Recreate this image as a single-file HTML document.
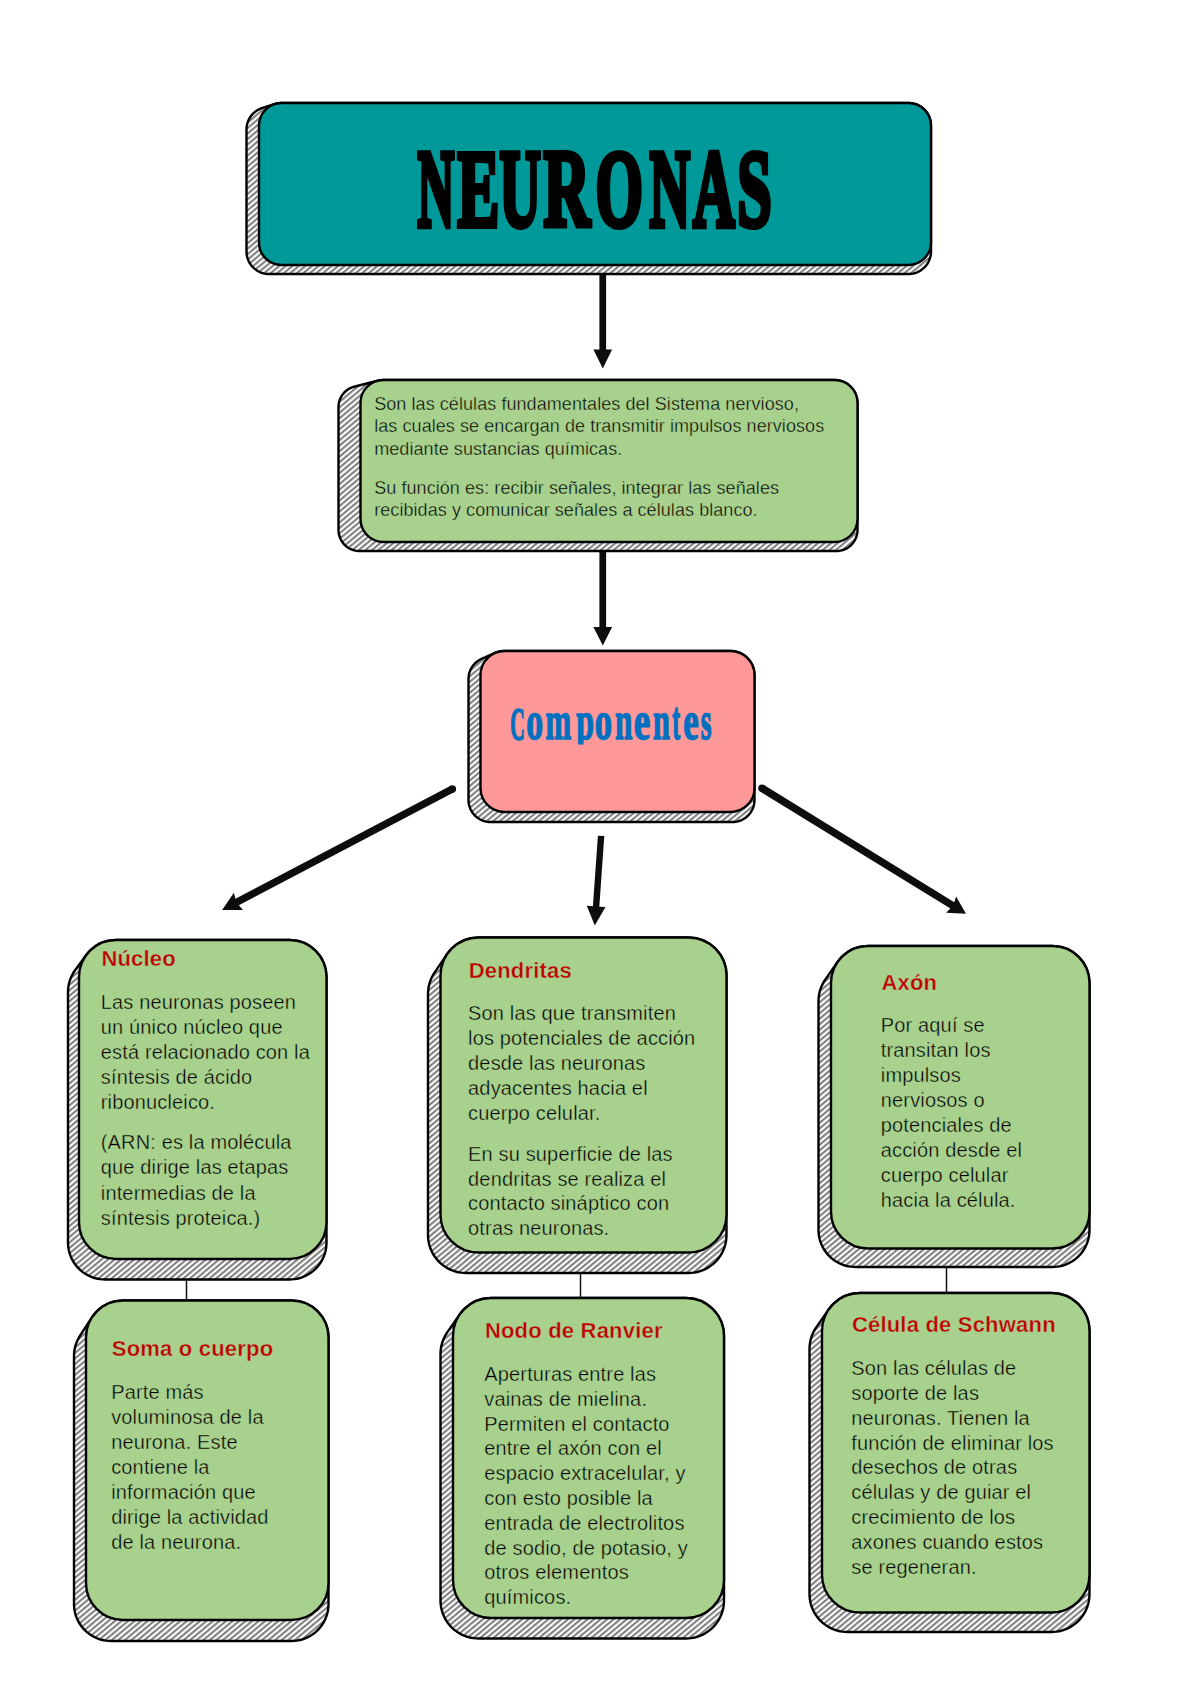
<!DOCTYPE html><html><head><meta charset="utf-8"><style>
html,body{margin:0;padding:0;background:#fff;width:1200px;height:1696px;overflow:hidden;position:relative}
.t{position:absolute;white-space:nowrap;font-family:"Liberation Sans",sans-serif;line-height:1;margin:0}
.big{position:absolute;white-space:nowrap;font-family:"Liberation Serif",serif;font-weight:bold;line-height:1;transform-origin:0 0}
</style></head><body>
<svg width="1200" height="1696" viewBox="0 0 1200 1696" style="position:absolute;left:0;top:0">
<defs><pattern id="h" patternUnits="userSpaceOnUse" width="4.2" height="4" patternTransform="rotate(50)"><rect width="4.2" height="4" fill="#fff"/><rect x="0" y="0" width="2.1" height="4" fill="#808080"/></pattern></defs>
<path d="M246.50,129.50 L246.55,128.03 L246.69,126.56 L246.93,125.11 L247.27,123.68 L247.69,122.27 L248.21,120.89 L248.82,119.55 L249.51,118.25 L250.29,117.00 L251.15,115.80 L252.08,114.66 L253.09,113.59 L254.16,112.58 L255.30,111.65 L256.50,110.79 L257.75,110.01 L259.05,109.32 L260.39,108.71 L261.77,108.19 L274.27,104.19 L275.68,103.77 L277.11,103.43 L278.56,103.19 L280.03,103.05 L281.50,103.00 L908.50,103.00 L909.97,103.05 L911.44,103.19 L912.89,103.43 L914.32,103.77 L915.73,104.19 L917.11,104.71 L918.45,105.32 L919.75,106.01 L921.00,106.79 L922.20,107.65 L923.34,108.58 L924.41,109.59 L925.42,110.66 L926.35,111.80 L927.21,113.00 L927.99,114.25 L928.68,115.55 L929.29,116.89 L929.81,118.27 L930.23,119.68 L930.57,121.11 L930.81,122.56 L930.95,124.03 L931.00,125.50 L931.00,251.50 L930.95,252.97 L930.81,254.44 L930.57,255.89 L930.23,257.32 L929.81,258.73 L929.29,260.11 L928.68,261.45 L927.99,262.75 L927.21,264.00 L926.35,265.20 L925.42,266.34 L924.41,267.41 L923.34,268.42 L922.20,269.35 L921.00,270.21 L919.75,270.99 L918.45,271.68 L917.11,272.29 L915.73,272.81 L914.32,273.23 L912.89,273.57 L911.44,273.81 L909.97,273.95 L908.50,274.00 L269.00,274.00 L267.53,273.95 L266.06,273.81 L264.61,273.57 L263.18,273.23 L261.77,272.81 L260.39,272.29 L259.05,271.68 L257.75,270.99 L256.50,270.21 L255.30,269.35 L254.16,268.42 L253.09,267.41 L252.08,266.34 L251.15,265.20 L250.29,264.00 L249.51,262.75 L248.82,261.45 L248.21,260.11 L247.69,258.73 L247.27,257.32 L246.93,255.89 L246.69,254.44 L246.55,252.97 L246.50,251.50 Z" fill="url(#h)" stroke="#000" stroke-width="2.4" stroke-linejoin="round"/>
<path d="M281.5,103 H908.5 A22.5,22.5 0 0 1 931,125.5 V242.5 A22.5,22.5 0 0 1 908.5,265 H281.5 A22.5,22.5 0 0 1 259,242.5 V125.5 A22.5,22.5 0 0 1 281.5,103 Z" fill="#009999" stroke="#000" stroke-width="2.4"/>
<path d="M338.50,407.00 L338.54,405.63 L338.68,404.26 L338.90,402.90 L339.22,401.56 L339.61,400.25 L340.10,398.96 L340.67,397.71 L341.31,396.50 L342.04,395.33 L342.84,394.22 L343.71,393.15 L344.65,392.15 L345.65,391.21 L346.72,390.34 L347.83,389.54 L349.00,388.81 L350.21,388.17 L351.46,387.60 L352.75,387.11 L354.06,386.72 L377.55,380.78 L379.01,380.44 L380.50,380.20 L382.00,380.05 L383.50,380.00 L834.50,380.00 L836.00,380.05 L837.50,380.20 L838.99,380.44 L840.45,380.78 L841.89,381.22 L843.30,381.75 L844.67,382.37 L846.00,383.08 L847.28,383.88 L848.50,384.75 L849.66,385.71 L850.76,386.74 L851.79,387.84 L852.75,389.00 L853.62,390.22 L854.42,391.50 L855.13,392.83 L855.75,394.20 L856.28,395.61 L856.72,397.05 L857.06,398.51 L857.30,400.00 L857.45,401.50 L857.50,403.00 L857.50,530.00 L857.46,531.37 L857.32,532.74 L857.10,534.10 L856.78,535.44 L856.39,536.75 L855.90,538.04 L855.33,539.29 L854.69,540.50 L853.96,541.67 L853.16,542.78 L852.29,543.85 L851.35,544.85 L850.35,545.79 L849.28,546.66 L848.17,547.46 L847.00,548.19 L845.79,548.83 L844.54,549.40 L843.25,549.89 L841.94,550.28 L840.60,550.60 L839.24,550.82 L837.87,550.96 L836.50,551.00 L359.50,551.00 L358.13,550.96 L356.76,550.82 L355.40,550.60 L354.06,550.28 L352.75,549.89 L351.46,549.40 L350.21,548.83 L349.00,548.19 L347.83,547.46 L346.72,546.66 L345.65,545.79 L344.65,544.85 L343.71,543.85 L342.84,542.78 L342.04,541.67 L341.31,540.50 L340.67,539.29 L340.10,538.04 L339.61,536.75 L339.22,535.44 L338.90,534.10 L338.68,532.74 L338.54,531.37 L338.50,530.00 Z" fill="url(#h)" stroke="#000" stroke-width="2.4" stroke-linejoin="round"/>
<path d="M383.5,380 H834.5 A23,23 0 0 1 857.5,403 V519 A23,23 0 0 1 834.5,542 H383.5 A23,23 0 0 1 360.5,519 V403 A23,23 0 0 1 383.5,380 Z" fill="#A9D18E" stroke="#000" stroke-width="2.4"/>
<path d="M468.50,679.00 L468.55,677.56 L468.69,676.13 L468.92,674.71 L469.25,673.31 L469.67,671.93 L470.17,670.58 L470.77,669.27 L471.45,668.00 L472.21,666.78 L473.05,665.61 L473.96,664.49 L474.94,663.44 L475.99,662.46 L477.11,661.55 L478.28,660.71 L479.50,659.95 L480.77,659.27 L482.08,658.67 L495.32,652.83 L496.79,652.27 L498.29,651.82 L499.82,651.46 L501.37,651.21 L502.93,651.05 L504.50,651.00 L730.50,651.00 L732.07,651.05 L733.63,651.21 L735.18,651.46 L736.71,651.82 L738.21,652.27 L739.68,652.83 L741.11,653.48 L742.50,654.22 L743.83,655.04 L745.11,655.96 L746.32,656.96 L747.47,658.03 L748.54,659.18 L749.54,660.39 L750.46,661.67 L751.28,663.00 L752.02,664.39 L752.67,665.82 L753.23,667.29 L753.68,668.79 L754.04,670.32 L754.29,671.87 L754.45,673.43 L754.50,675.00 L754.50,800.00 L754.45,801.44 L754.31,802.87 L754.08,804.29 L753.75,805.69 L753.33,807.07 L752.83,808.42 L752.23,809.73 L751.55,811.00 L750.79,812.22 L749.95,813.39 L749.04,814.51 L748.06,815.56 L747.01,816.54 L745.89,817.45 L744.72,818.29 L743.50,819.05 L742.23,819.73 L740.92,820.33 L739.57,820.83 L738.19,821.25 L736.79,821.58 L735.37,821.81 L733.94,821.95 L732.50,822.00 L490.50,822.00 L489.06,821.95 L487.63,821.81 L486.21,821.58 L484.81,821.25 L483.43,820.83 L482.08,820.33 L480.77,819.73 L479.50,819.05 L478.28,818.29 L477.11,817.45 L475.99,816.54 L474.94,815.56 L473.96,814.51 L473.05,813.39 L472.21,812.22 L471.45,811.00 L470.77,809.73 L470.17,808.42 L469.67,807.07 L469.25,805.69 L468.92,804.29 L468.69,802.87 L468.55,801.44 L468.50,800.00 Z" fill="url(#h)" stroke="#000" stroke-width="2.4" stroke-linejoin="round"/>
<path d="M504.5,651 H730.5 A24,24 0 0 1 754.5,675 V788 A24,24 0 0 1 730.5,812 H504.5 A24,24 0 0 1 480.5,788 V675 A24,24 0 0 1 504.5,651 Z" fill="#FF9999" stroke="#000" stroke-width="2.4"/>
<path d="M68.00,992.00 L68.08,989.58 L68.32,987.17 L68.71,984.78 L69.26,982.42 L69.96,980.11 L70.82,977.84 L71.82,975.64 L72.96,973.50 L74.24,971.44 L75.65,969.48 L86.65,954.48 L88.18,952.60 L89.84,950.84 L91.60,949.18 L93.48,947.65 L95.44,946.24 L97.50,944.96 L99.64,943.82 L101.84,942.82 L104.11,941.96 L106.42,941.26 L108.78,940.71 L111.17,940.32 L113.58,940.08 L116.00,940.00 L289.50,940.00 L291.92,940.08 L294.33,940.32 L296.72,940.71 L299.08,941.26 L301.39,941.96 L303.66,942.82 L305.86,943.82 L308.00,944.96 L310.06,946.24 L312.02,947.65 L313.90,949.18 L315.66,950.84 L317.32,952.60 L318.85,954.48 L320.26,956.44 L321.54,958.50 L322.68,960.64 L323.68,962.84 L324.54,965.11 L325.24,967.42 L325.79,969.78 L326.18,972.17 L326.42,974.58 L326.50,977.00 L326.50,1242.50 L326.42,1244.92 L326.18,1247.33 L325.79,1249.72 L325.24,1252.08 L324.54,1254.39 L323.68,1256.66 L322.68,1258.86 L321.54,1261.00 L320.26,1263.06 L318.85,1265.02 L317.32,1266.90 L315.66,1268.66 L313.90,1270.32 L312.02,1271.85 L310.06,1273.26 L308.00,1274.54 L305.86,1275.68 L303.66,1276.68 L301.39,1277.54 L299.08,1278.24 L296.72,1278.79 L294.33,1279.18 L291.92,1279.42 L289.50,1279.50 L105.00,1279.50 L102.58,1279.42 L100.17,1279.18 L97.78,1278.79 L95.42,1278.24 L93.11,1277.54 L90.84,1276.68 L88.64,1275.68 L86.50,1274.54 L84.44,1273.26 L82.48,1271.85 L80.60,1270.32 L78.84,1268.66 L77.18,1266.90 L75.65,1265.02 L74.24,1263.06 L72.96,1261.00 L71.82,1258.86 L70.82,1256.66 L69.96,1254.39 L69.26,1252.08 L68.71,1249.72 L68.32,1247.33 L68.08,1244.92 L68.00,1242.50 Z" fill="url(#h)" stroke="#000" stroke-width="2.4" stroke-linejoin="round"/>
<path d="M116,940 H289.5 A37,37 0 0 1 326.5,977 V1222 A37,37 0 0 1 289.5,1259 H116 A37,37 0 0 1 79,1222 V977 A37,37 0 0 1 116,940 Z" fill="#A9D18E" stroke="#000" stroke-width="2.4"/>
<path d="M428.00,994.00 L428.08,991.51 L428.33,989.04 L428.73,986.59 L429.29,984.16 L430.02,981.79 L430.89,979.46 L431.92,977.19 L433.09,975.00 L434.40,972.89 L446.90,954.39 L448.35,952.37 L449.93,950.44 L451.63,948.63 L453.44,946.93 L455.37,945.35 L457.39,943.90 L459.50,942.59 L461.69,941.42 L463.96,940.39 L466.29,939.52 L468.66,938.79 L471.09,938.23 L473.54,937.83 L476.01,937.58 L478.50,937.50 L688.50,937.50 L690.99,937.58 L693.46,937.83 L695.91,938.23 L698.34,938.79 L700.71,939.52 L703.04,940.39 L705.31,941.42 L707.50,942.59 L709.61,943.90 L711.63,945.35 L713.56,946.93 L715.37,948.63 L717.07,950.44 L718.65,952.37 L720.10,954.39 L721.41,956.50 L722.58,958.69 L723.61,960.96 L724.48,963.29 L725.21,965.66 L725.77,968.09 L726.17,970.54 L726.42,973.01 L726.50,975.50 L726.50,1235.00 L726.42,1237.49 L726.17,1239.96 L725.77,1242.41 L725.21,1244.84 L724.48,1247.21 L723.61,1249.54 L722.58,1251.81 L721.41,1254.00 L720.10,1256.11 L718.65,1258.13 L717.07,1260.06 L715.37,1261.87 L713.56,1263.57 L711.63,1265.15 L709.61,1266.60 L707.50,1267.91 L705.31,1269.08 L703.04,1270.11 L700.71,1270.98 L698.34,1271.71 L695.91,1272.27 L693.46,1272.67 L690.99,1272.92 L688.50,1273.00 L466.00,1273.00 L463.51,1272.92 L461.04,1272.67 L458.59,1272.27 L456.16,1271.71 L453.79,1270.98 L451.46,1270.11 L449.19,1269.08 L447.00,1267.91 L444.89,1266.60 L442.87,1265.15 L440.94,1263.57 L439.13,1261.87 L437.43,1260.06 L435.85,1258.13 L434.40,1256.11 L433.09,1254.00 L431.92,1251.81 L430.89,1249.54 L430.02,1247.21 L429.29,1244.84 L428.73,1242.41 L428.33,1239.96 L428.08,1237.49 L428.00,1235.00 Z" fill="url(#h)" stroke="#000" stroke-width="2.4" stroke-linejoin="round"/>
<path d="M478.5,937.5 H688.5 A38,38 0 0 1 726.5,975.5 V1214.5 A38,38 0 0 1 688.5,1252.5 H478.5 A38,38 0 0 1 440.5,1214.5 V975.5 A38,38 0 0 1 478.5,937.5 Z" fill="#A9D18E" stroke="#000" stroke-width="2.4"/>
<path d="M818.50,1001.00 L818.58,998.58 L818.82,996.17 L819.21,993.78 L819.76,991.42 L820.46,989.11 L821.32,986.84 L822.32,984.64 L823.46,982.50 L824.74,980.44 L837.24,962.44 L838.65,960.48 L840.18,958.60 L841.84,956.84 L843.60,955.18 L845.48,953.65 L847.44,952.24 L849.50,950.96 L851.64,949.82 L853.84,948.82 L856.11,947.96 L858.42,947.26 L860.78,946.71 L863.17,946.32 L865.58,946.08 L868.00,946.00 L1052.50,946.00 L1054.92,946.08 L1057.33,946.32 L1059.72,946.71 L1062.08,947.26 L1064.39,947.96 L1066.66,948.82 L1068.86,949.82 L1071.00,950.96 L1073.06,952.24 L1075.02,953.65 L1076.90,955.18 L1078.66,956.84 L1080.32,958.60 L1081.85,960.48 L1083.26,962.44 L1084.54,964.50 L1085.68,966.64 L1086.68,968.84 L1087.54,971.11 L1088.24,973.42 L1088.79,975.78 L1089.18,978.17 L1089.42,980.58 L1089.50,983.00 L1089.50,1230.00 L1089.42,1232.42 L1089.18,1234.83 L1088.79,1237.22 L1088.24,1239.58 L1087.54,1241.89 L1086.68,1244.16 L1085.68,1246.36 L1084.54,1248.50 L1083.26,1250.56 L1081.85,1252.52 L1080.32,1254.40 L1078.66,1256.16 L1076.90,1257.82 L1075.02,1259.35 L1073.06,1260.76 L1071.00,1262.04 L1068.86,1263.18 L1066.66,1264.18 L1064.39,1265.04 L1062.08,1265.74 L1059.72,1266.29 L1057.33,1266.68 L1054.92,1266.92 L1052.50,1267.00 L855.50,1267.00 L853.08,1266.92 L850.67,1266.68 L848.28,1266.29 L845.92,1265.74 L843.61,1265.04 L841.34,1264.18 L839.14,1263.18 L837.00,1262.04 L834.94,1260.76 L832.98,1259.35 L831.10,1257.82 L829.34,1256.16 L827.68,1254.40 L826.15,1252.52 L824.74,1250.56 L823.46,1248.50 L822.32,1246.36 L821.32,1244.16 L820.46,1241.89 L819.76,1239.58 L819.21,1237.22 L818.82,1234.83 L818.58,1232.42 L818.50,1230.00 Z" fill="url(#h)" stroke="#000" stroke-width="2.4" stroke-linejoin="round"/>
<path d="M868,946 H1052.5 A37,37 0 0 1 1089.5,983 V1211.5 A37,37 0 0 1 1052.5,1248.5 H868 A37,37 0 0 1 831,1211.5 V983 A37,37 0 0 1 868,946 Z" fill="#A9D18E" stroke="#000" stroke-width="2.4"/>
<path d="M74.00,1356.00 L74.08,1353.58 L74.32,1351.17 L74.71,1348.78 L75.26,1346.42 L75.96,1344.11 L76.82,1341.84 L77.82,1339.64 L78.96,1337.50 L80.24,1335.44 L92.24,1316.94 L93.65,1314.98 L95.18,1313.10 L96.84,1311.34 L98.60,1309.68 L100.48,1308.15 L102.44,1306.74 L104.50,1305.46 L106.64,1304.32 L108.84,1303.32 L111.11,1302.46 L113.42,1301.76 L115.78,1301.21 L118.17,1300.82 L120.58,1300.58 L123.00,1300.50 L291.50,1300.50 L293.92,1300.58 L296.33,1300.82 L298.72,1301.21 L301.08,1301.76 L303.39,1302.46 L305.66,1303.32 L307.86,1304.32 L310.00,1305.46 L312.06,1306.74 L314.02,1308.15 L315.90,1309.68 L317.66,1311.34 L319.32,1313.10 L320.85,1314.98 L322.26,1316.94 L323.54,1319.00 L324.68,1321.14 L325.68,1323.34 L326.54,1325.61 L327.24,1327.92 L327.79,1330.28 L328.18,1332.67 L328.42,1335.08 L328.50,1337.50 L328.50,1604.00 L328.42,1606.42 L328.18,1608.83 L327.79,1611.22 L327.24,1613.58 L326.54,1615.89 L325.68,1618.16 L324.68,1620.36 L323.54,1622.50 L322.26,1624.56 L320.85,1626.52 L319.32,1628.40 L317.66,1630.16 L315.90,1631.82 L314.02,1633.35 L312.06,1634.76 L310.00,1636.04 L307.86,1637.18 L305.66,1638.18 L303.39,1639.04 L301.08,1639.74 L298.72,1640.29 L296.33,1640.68 L293.92,1640.92 L291.50,1641.00 L111.00,1641.00 L108.58,1640.92 L106.17,1640.68 L103.78,1640.29 L101.42,1639.74 L99.11,1639.04 L96.84,1638.18 L94.64,1637.18 L92.50,1636.04 L90.44,1634.76 L88.48,1633.35 L86.60,1631.82 L84.84,1630.16 L83.18,1628.40 L81.65,1626.52 L80.24,1624.56 L78.96,1622.50 L77.82,1620.36 L76.82,1618.16 L75.96,1615.89 L75.26,1613.58 L74.71,1611.22 L74.32,1608.83 L74.08,1606.42 L74.00,1604.00 Z" fill="url(#h)" stroke="#000" stroke-width="2.4" stroke-linejoin="round"/>
<path d="M123,1300.5 H291.5 A37,37 0 0 1 328.5,1337.5 V1583 A37,37 0 0 1 291.5,1620 H123 A37,37 0 0 1 86,1583 V1337.5 A37,37 0 0 1 123,1300.5 Z" fill="#A9D18E" stroke="#000" stroke-width="2.4"/>
<path d="M440.50,1354.00 L440.58,1351.51 L440.83,1349.04 L441.23,1346.59 L441.79,1344.16 L442.52,1341.79 L443.39,1339.46 L444.42,1337.19 L445.59,1335.00 L446.90,1332.89 L459.40,1314.89 L460.85,1312.87 L462.43,1310.94 L464.13,1309.13 L465.94,1307.43 L467.87,1305.85 L469.89,1304.40 L472.00,1303.09 L474.19,1301.92 L476.46,1300.89 L478.79,1300.02 L481.16,1299.29 L483.59,1298.73 L486.04,1298.33 L488.51,1298.08 L491.00,1298.00 L686.00,1298.00 L688.49,1298.08 L690.96,1298.33 L693.41,1298.73 L695.84,1299.29 L698.21,1300.02 L700.54,1300.89 L702.81,1301.92 L705.00,1303.09 L707.11,1304.40 L709.13,1305.85 L711.06,1307.43 L712.87,1309.13 L714.57,1310.94 L716.15,1312.87 L717.60,1314.89 L718.91,1317.00 L720.08,1319.19 L721.11,1321.46 L721.98,1323.79 L722.71,1326.16 L723.27,1328.59 L723.67,1331.04 L723.92,1333.51 L724.00,1336.00 L724.00,1600.50 L723.92,1602.99 L723.67,1605.46 L723.27,1607.91 L722.71,1610.34 L721.98,1612.71 L721.11,1615.04 L720.08,1617.31 L718.91,1619.50 L717.60,1621.61 L716.15,1623.63 L714.57,1625.56 L712.87,1627.37 L711.06,1629.07 L709.13,1630.65 L707.11,1632.10 L705.00,1633.41 L702.81,1634.58 L700.54,1635.61 L698.21,1636.48 L695.84,1637.21 L693.41,1637.77 L690.96,1638.17 L688.49,1638.42 L686.00,1638.50 L478.50,1638.50 L476.01,1638.42 L473.54,1638.17 L471.09,1637.77 L468.66,1637.21 L466.29,1636.48 L463.96,1635.61 L461.69,1634.58 L459.50,1633.41 L457.39,1632.10 L455.37,1630.65 L453.44,1629.07 L451.63,1627.37 L449.93,1625.56 L448.35,1623.63 L446.90,1621.61 L445.59,1619.50 L444.42,1617.31 L443.39,1615.04 L442.52,1612.71 L441.79,1610.34 L441.23,1607.91 L440.83,1605.46 L440.58,1602.99 L440.50,1600.50 Z" fill="url(#h)" stroke="#000" stroke-width="2.4" stroke-linejoin="round"/>
<path d="M491,1298 H686 A38,38 0 0 1 724,1336 V1580 A38,38 0 0 1 686,1618 H491 A38,38 0 0 1 453,1580 V1336 A38,38 0 0 1 491,1298 Z" fill="#A9D18E" stroke="#000" stroke-width="2.4"/>
<path d="M809.50,1349.00 L809.58,1346.51 L809.83,1344.04 L810.23,1341.59 L810.79,1339.16 L811.52,1336.79 L812.39,1334.46 L813.42,1332.19 L814.59,1330.00 L815.90,1327.89 L828.40,1309.89 L829.85,1307.87 L831.43,1305.94 L833.13,1304.13 L834.94,1302.43 L836.87,1300.85 L838.89,1299.40 L841.00,1298.09 L843.19,1296.92 L845.46,1295.89 L847.79,1295.02 L850.16,1294.29 L852.59,1293.73 L855.04,1293.33 L857.51,1293.08 L860.00,1293.00 L1051.50,1293.00 L1053.99,1293.08 L1056.46,1293.33 L1058.91,1293.73 L1061.34,1294.29 L1063.71,1295.02 L1066.04,1295.89 L1068.31,1296.92 L1070.50,1298.09 L1072.61,1299.40 L1074.63,1300.85 L1076.56,1302.43 L1078.37,1304.13 L1080.07,1305.94 L1081.65,1307.87 L1083.10,1309.89 L1084.41,1312.00 L1085.58,1314.19 L1086.61,1316.46 L1087.48,1318.79 L1088.21,1321.16 L1088.77,1323.59 L1089.17,1326.04 L1089.42,1328.51 L1089.50,1331.00 L1089.50,1594.00 L1089.42,1596.49 L1089.17,1598.96 L1088.77,1601.41 L1088.21,1603.84 L1087.48,1606.21 L1086.61,1608.54 L1085.58,1610.81 L1084.41,1613.00 L1083.10,1615.11 L1081.65,1617.13 L1080.07,1619.06 L1078.37,1620.87 L1076.56,1622.57 L1074.63,1624.15 L1072.61,1625.60 L1070.50,1626.91 L1068.31,1628.08 L1066.04,1629.11 L1063.71,1629.98 L1061.34,1630.71 L1058.91,1631.27 L1056.46,1631.67 L1053.99,1631.92 L1051.50,1632.00 L847.50,1632.00 L845.01,1631.92 L842.54,1631.67 L840.09,1631.27 L837.66,1630.71 L835.29,1629.98 L832.96,1629.11 L830.69,1628.08 L828.50,1626.91 L826.39,1625.60 L824.37,1624.15 L822.44,1622.57 L820.63,1620.87 L818.93,1619.06 L817.35,1617.13 L815.90,1615.11 L814.59,1613.00 L813.42,1610.81 L812.39,1608.54 L811.52,1606.21 L810.79,1603.84 L810.23,1601.41 L809.83,1598.96 L809.58,1596.49 L809.50,1594.00 Z" fill="url(#h)" stroke="#000" stroke-width="2.4" stroke-linejoin="round"/>
<path d="M860,1293 H1051.5 A38,38 0 0 1 1089.5,1331 V1574.5 A38,38 0 0 1 1051.5,1612.5 H860 A38,38 0 0 1 822,1574.5 V1331 A38,38 0 0 1 860,1293 Z" fill="#A9D18E" stroke="#000" stroke-width="2.4"/>
<polygon fill="#0d0d0d" points="599.4,275.0 599.4,349.6 593.4,349.6 602.8,368.4 612.1,349.6 606.1,349.6 606.1,275.0"/>
<polygon fill="#0d0d0d" points="599.4,552.0 599.4,627.0 593.4,627.0 602.8,645.4 612.1,627.0 606.1,627.0 606.1,552.0"/>
<polygon fill="#0d0d0d" points="450.6,785.7 235.4,898.7 233.9,892.7 222.1,909.9 243.0,909.9 238.9,905.3 454.0,792.3"/>
<circle cx="452.3" cy="789" r="3.75" fill="#0d0d0d"/>
<polygon fill="#0d0d0d" points="597.9,835.7 592.9,906.2 586.8,905.8 594.8,925.4 605.5,907.1 599.3,906.7 604.3,836.1"/>
<polygon fill="#0d0d0d" points="760.0,791.5 950.4,908.6 946.1,912.7 966.0,913.8 956.1,896.5 954.3,902.2 764.0,785.1"/>
<circle cx="762" cy="788.3" r="3.75" fill="#0d0d0d"/>
<line x1="186.5" y1="1279.5" x2="186.5" y2="1300.5" stroke="#111" stroke-width="1.5"/>
<line x1="580.5" y1="1273" x2="580.5" y2="1298" stroke="#111" stroke-width="1.5"/>
<line x1="946.5" y1="1267" x2="946.5" y2="1293" stroke="#111" stroke-width="1.5"/>
</svg>
<div class="t" style="left:374.2px;top:394.76px;font-size:18px;letter-spacing:0.07px;color:#000;-webkit-text-stroke:0.4px #A9D18E">Son las células fundamentales del Sistema nervioso,</div>
<div class="t" style="left:374.2px;top:417.46px;font-size:18px;letter-spacing:0.07px;color:#000;-webkit-text-stroke:0.4px #A9D18E">las cuales se encargan de transmitir impulsos nerviosos</div>
<div class="t" style="left:374.2px;top:440.16px;font-size:18px;letter-spacing:0.07px;color:#000;-webkit-text-stroke:0.4px #A9D18E">mediante sustancias químicas.</div>
<div class="t" style="left:374.2px;top:478.76px;font-size:18px;letter-spacing:0.07px;color:#000;-webkit-text-stroke:0.4px #A9D18E">Su función es: recibir señales, integrar las señales</div>
<div class="t" style="left:374.2px;top:501.36px;font-size:18px;letter-spacing:0.07px;color:#000;-webkit-text-stroke:0.4px #A9D18E">recibidas y comunicar señales a células blanco.</div>
<div class="t" style="left:101.4px;top:947.88px;font-size:22px;letter-spacing:0.2px;font-weight:bold;color:#C00000;-webkit-text-stroke:0.4px #A9D18E">Núcleo</div>
<div class="t" style="left:100.8px;top:992.27px;font-size:20px;letter-spacing:0.15px;color:#000;-webkit-text-stroke:0.4px #A9D18E">Las neuronas poseen</div>
<div class="t" style="left:100.8px;top:1017.17px;font-size:20px;letter-spacing:0.15px;color:#000;-webkit-text-stroke:0.4px #A9D18E">un único núcleo que</div>
<div class="t" style="left:100.8px;top:1042.07px;font-size:20px;letter-spacing:0.15px;color:#000;-webkit-text-stroke:0.4px #A9D18E">está relacionado con la</div>
<div class="t" style="left:100.8px;top:1066.97px;font-size:20px;letter-spacing:0.15px;color:#000;-webkit-text-stroke:0.4px #A9D18E">síntesis de ácido</div>
<div class="t" style="left:100.8px;top:1091.87px;font-size:20px;letter-spacing:0.15px;color:#000;-webkit-text-stroke:0.4px #A9D18E">ribonucleico.</div>
<div class="t" style="left:100.8px;top:1132.27px;font-size:20px;letter-spacing:0.15px;color:#000;-webkit-text-stroke:0.4px #A9D18E">(ARN: es la molécula</div>
<div class="t" style="left:100.8px;top:1157.47px;font-size:20px;letter-spacing:0.15px;color:#000;-webkit-text-stroke:0.4px #A9D18E">que dirige las etapas</div>
<div class="t" style="left:100.8px;top:1182.67px;font-size:20px;letter-spacing:0.15px;color:#000;-webkit-text-stroke:0.4px #A9D18E">intermedias de la</div>
<div class="t" style="left:100.8px;top:1207.87px;font-size:20px;letter-spacing:0.15px;color:#000;-webkit-text-stroke:0.4px #A9D18E">síntesis proteica.)</div>
<div class="t" style="left:468.7px;top:959.68px;font-size:22px;letter-spacing:0.2px;font-weight:bold;color:#C00000;-webkit-text-stroke:0.4px #A9D18E">Dendritas</div>
<div class="t" style="left:468.1px;top:1002.77px;font-size:20px;letter-spacing:0.15px;color:#000;-webkit-text-stroke:0.4px #A9D18E">Son las que transmiten</div>
<div class="t" style="left:468.1px;top:1027.77px;font-size:20px;letter-spacing:0.15px;color:#000;-webkit-text-stroke:0.4px #A9D18E">los potenciales de acción</div>
<div class="t" style="left:468.1px;top:1052.77px;font-size:20px;letter-spacing:0.15px;color:#000;-webkit-text-stroke:0.4px #A9D18E">desde las neuronas</div>
<div class="t" style="left:468.1px;top:1077.77px;font-size:20px;letter-spacing:0.15px;color:#000;-webkit-text-stroke:0.4px #A9D18E">adyacentes hacia el</div>
<div class="t" style="left:468.1px;top:1102.77px;font-size:20px;letter-spacing:0.15px;color:#000;-webkit-text-stroke:0.4px #A9D18E">cuerpo celular.</div>
<div class="t" style="left:468.1px;top:1144.07px;font-size:20px;letter-spacing:0.15px;color:#000;-webkit-text-stroke:0.4px #A9D18E">En su superficie de las</div>
<div class="t" style="left:468.1px;top:1168.57px;font-size:20px;letter-spacing:0.15px;color:#000;-webkit-text-stroke:0.4px #A9D18E">dendritas se realiza el</div>
<div class="t" style="left:468.1px;top:1193.07px;font-size:20px;letter-spacing:0.15px;color:#000;-webkit-text-stroke:0.4px #A9D18E">contacto sináptico con</div>
<div class="t" style="left:468.1px;top:1217.57px;font-size:20px;letter-spacing:0.15px;color:#000;-webkit-text-stroke:0.4px #A9D18E">otras neuronas.</div>
<div class="t" style="left:881.4px;top:971.68px;font-size:22px;letter-spacing:0.2px;font-weight:bold;color:#C00000;-webkit-text-stroke:0.4px #A9D18E">Axón</div>
<div class="t" style="left:880.8px;top:1015.32px;font-size:20px;letter-spacing:0.15px;color:#000;-webkit-text-stroke:0.4px #A9D18E">Por aquí se</div>
<div class="t" style="left:880.8px;top:1040.32px;font-size:20px;letter-spacing:0.15px;color:#000;-webkit-text-stroke:0.4px #A9D18E">transitan los</div>
<div class="t" style="left:880.8px;top:1065.32px;font-size:20px;letter-spacing:0.15px;color:#000;-webkit-text-stroke:0.4px #A9D18E">impulsos</div>
<div class="t" style="left:880.8px;top:1090.32px;font-size:20px;letter-spacing:0.15px;color:#000;-webkit-text-stroke:0.4px #A9D18E">nerviosos o</div>
<div class="t" style="left:880.8px;top:1115.32px;font-size:20px;letter-spacing:0.15px;color:#000;-webkit-text-stroke:0.4px #A9D18E">potenciales de</div>
<div class="t" style="left:880.8px;top:1140.32px;font-size:20px;letter-spacing:0.15px;color:#000;-webkit-text-stroke:0.4px #A9D18E">acción desde el</div>
<div class="t" style="left:880.8px;top:1165.32px;font-size:20px;letter-spacing:0.15px;color:#000;-webkit-text-stroke:0.4px #A9D18E">cuerpo celular</div>
<div class="t" style="left:880.8px;top:1190.32px;font-size:20px;letter-spacing:0.15px;color:#000;-webkit-text-stroke:0.4px #A9D18E">hacia la célula.</div>
<div class="t" style="left:111.80000000000001px;top:1338.48px;font-size:22px;letter-spacing:0.2px;font-weight:bold;color:#C00000;-webkit-text-stroke:0.4px #A9D18E">Soma o cuerpo</div>
<div class="t" style="left:111.2px;top:1382.17px;font-size:20px;letter-spacing:0.15px;color:#000;-webkit-text-stroke:0.4px #A9D18E">Parte más</div>
<div class="t" style="left:111.2px;top:1407.20px;font-size:20px;letter-spacing:0.15px;color:#000;-webkit-text-stroke:0.4px #A9D18E">voluminosa de la</div>
<div class="t" style="left:111.2px;top:1432.23px;font-size:20px;letter-spacing:0.15px;color:#000;-webkit-text-stroke:0.4px #A9D18E">neurona. Este</div>
<div class="t" style="left:111.2px;top:1457.26px;font-size:20px;letter-spacing:0.15px;color:#000;-webkit-text-stroke:0.4px #A9D18E">contiene la</div>
<div class="t" style="left:111.2px;top:1482.29px;font-size:20px;letter-spacing:0.15px;color:#000;-webkit-text-stroke:0.4px #A9D18E">información que</div>
<div class="t" style="left:111.2px;top:1507.32px;font-size:20px;letter-spacing:0.15px;color:#000;-webkit-text-stroke:0.4px #A9D18E">dirige la actividad</div>
<div class="t" style="left:111.2px;top:1532.35px;font-size:20px;letter-spacing:0.15px;color:#000;-webkit-text-stroke:0.4px #A9D18E">de la neurona.</div>
<div class="t" style="left:484.9px;top:1320.08px;font-size:22px;letter-spacing:0.2px;font-weight:bold;color:#C00000;-webkit-text-stroke:0.4px #A9D18E">Nodo de Ranvier</div>
<div class="t" style="left:484.3px;top:1363.87px;font-size:20px;letter-spacing:0.15px;color:#000;-webkit-text-stroke:0.4px #A9D18E">Aperturas entre las</div>
<div class="t" style="left:484.3px;top:1388.69px;font-size:20px;letter-spacing:0.15px;color:#000;-webkit-text-stroke:0.4px #A9D18E">vainas de mielina.</div>
<div class="t" style="left:484.3px;top:1413.51px;font-size:20px;letter-spacing:0.15px;color:#000;-webkit-text-stroke:0.4px #A9D18E">Permiten el contacto</div>
<div class="t" style="left:484.3px;top:1438.33px;font-size:20px;letter-spacing:0.15px;color:#000;-webkit-text-stroke:0.4px #A9D18E">entre el axón con el</div>
<div class="t" style="left:484.3px;top:1463.15px;font-size:20px;letter-spacing:0.15px;color:#000;-webkit-text-stroke:0.4px #A9D18E">espacio extracelular, y</div>
<div class="t" style="left:484.3px;top:1487.97px;font-size:20px;letter-spacing:0.15px;color:#000;-webkit-text-stroke:0.4px #A9D18E">con esto posible la</div>
<div class="t" style="left:484.3px;top:1512.79px;font-size:20px;letter-spacing:0.15px;color:#000;-webkit-text-stroke:0.4px #A9D18E">entrada de electrolitos</div>
<div class="t" style="left:484.3px;top:1537.61px;font-size:20px;letter-spacing:0.15px;color:#000;-webkit-text-stroke:0.4px #A9D18E">de sodio, de potasio, y</div>
<div class="t" style="left:484.3px;top:1562.43px;font-size:20px;letter-spacing:0.15px;color:#000;-webkit-text-stroke:0.4px #A9D18E">otros elementos</div>
<div class="t" style="left:484.3px;top:1587.25px;font-size:20px;letter-spacing:0.15px;color:#000;-webkit-text-stroke:0.4px #A9D18E">químicos.</div>
<div class="t" style="left:851.9px;top:1314.13px;font-size:22px;letter-spacing:0.2px;font-weight:bold;color:#C00000;-webkit-text-stroke:0.4px #A9D18E">Célula de Schwann</div>
<div class="t" style="left:851.3px;top:1357.82px;font-size:20px;letter-spacing:0.15px;color:#000;-webkit-text-stroke:0.4px #A9D18E">Son las células de</div>
<div class="t" style="left:851.3px;top:1382.72px;font-size:20px;letter-spacing:0.15px;color:#000;-webkit-text-stroke:0.4px #A9D18E">soporte de las</div>
<div class="t" style="left:851.3px;top:1407.62px;font-size:20px;letter-spacing:0.15px;color:#000;-webkit-text-stroke:0.4px #A9D18E">neuronas. Tienen la</div>
<div class="t" style="left:851.3px;top:1432.52px;font-size:20px;letter-spacing:0.15px;color:#000;-webkit-text-stroke:0.4px #A9D18E">función de eliminar los</div>
<div class="t" style="left:851.3px;top:1457.42px;font-size:20px;letter-spacing:0.15px;color:#000;-webkit-text-stroke:0.4px #A9D18E">desechos de otras</div>
<div class="t" style="left:851.3px;top:1482.32px;font-size:20px;letter-spacing:0.15px;color:#000;-webkit-text-stroke:0.4px #A9D18E">células y de guiar el</div>
<div class="t" style="left:851.3px;top:1507.22px;font-size:20px;letter-spacing:0.15px;color:#000;-webkit-text-stroke:0.4px #A9D18E">crecimiento de los</div>
<div class="t" style="left:851.3px;top:1532.12px;font-size:20px;letter-spacing:0.15px;color:#000;-webkit-text-stroke:0.4px #A9D18E">axones cuando estos</div>
<div class="t" style="left:851.3px;top:1557.02px;font-size:20px;letter-spacing:0.15px;color:#000;-webkit-text-stroke:0.4px #A9D18E">se regeneran.</div>
<svg width="1200" height="1696" style="position:absolute;left:0;top:0" font-family="Liberation Serif" font-weight="bold">
<text transform="translate(417.53,225.50) scale(0.4626,1)" font-size="109.65" fill="#000" stroke="#000" stroke-width="5" vector-effect="non-scaling-stroke">N</text>
<text transform="translate(457.43,225.50) scale(0.5713,1)" font-size="109.65" fill="#000" stroke="#000" stroke-width="5" vector-effect="non-scaling-stroke">E</text>
<text transform="translate(499.57,225.50) scale(0.5222,1)" font-size="109.65" fill="#000" stroke="#000" stroke-width="5" vector-effect="non-scaling-stroke">U</text>
<text transform="translate(543.40,225.50) scale(0.5876,1)" font-size="109.65" fill="#000" stroke="#000" stroke-width="5" vector-effect="non-scaling-stroke">R</text>
<text transform="translate(595.52,225.50) scale(0.5564,1)" font-size="109.65" fill="#000" stroke="#000" stroke-width="5" vector-effect="non-scaling-stroke">O</text>
<text transform="translate(649.43,225.50) scale(0.5115,1)" font-size="109.65" fill="#000" stroke="#000" stroke-width="5" vector-effect="non-scaling-stroke">N</text>
<text transform="translate(692.94,225.50) scale(0.5264,1)" font-size="109.65" fill="#000" stroke="#000" stroke-width="5" vector-effect="non-scaling-stroke">A</text>
<text transform="translate(737.21,225.50) scale(0.5645,1)" font-size="109.65" fill="#000" stroke="#000" stroke-width="5" vector-effect="non-scaling-stroke">S</text>
<text transform="translate(510.17,739.70) scale(0.4398,1)" font-size="45.69" fill="#0070C0" stroke="#0070C0" stroke-width="1.3" vector-effect="non-scaling-stroke">C</text>
<defs><clipPath id="cp"><rect x="500" y="690" width="230" height="54.5"/></clipPath></defs>
<g clip-path="url(#cp)">
<text transform="translate(526.36,739.25) scale(0.6078,1)" font-size="55.51" fill="#0070C0" stroke="#0070C0" stroke-width="1.3" vector-effect="non-scaling-stroke">o</text>
<text transform="translate(545.62,739.25) scale(0.5570,1)" font-size="55.51" fill="#0070C0" stroke="#0070C0" stroke-width="1.3" vector-effect="non-scaling-stroke">m</text>
<text transform="translate(576.34,739.25) scale(0.5767,1)" font-size="55.51" fill="#0070C0" stroke="#0070C0" stroke-width="1.3" vector-effect="non-scaling-stroke">p</text>
<text transform="translate(594.73,739.25) scale(0.6248,1)" font-size="55.51" fill="#0070C0" stroke="#0070C0" stroke-width="1.3" vector-effect="non-scaling-stroke">o</text>
<text transform="translate(614.91,739.25) scale(0.5641,1)" font-size="55.51" fill="#0070C0" stroke="#0070C0" stroke-width="1.3" vector-effect="non-scaling-stroke">n</text>
<text transform="translate(633.78,739.25) scale(0.6712,1)" font-size="55.51" fill="#0070C0" stroke="#0070C0" stroke-width="1.3" vector-effect="non-scaling-stroke">e</text>
<text transform="translate(653.04,739.25) scale(0.5465,1)" font-size="55.51" fill="#0070C0" stroke="#0070C0" stroke-width="1.3" vector-effect="non-scaling-stroke">n</text>
<text transform="translate(672.27,739.25) scale(0.4266,1)" font-size="55.51" fill="#0070C0" stroke="#0070C0" stroke-width="1.3" vector-effect="non-scaling-stroke">t</text>
<text transform="translate(683.36,739.25) scale(0.6289,1)" font-size="55.51" fill="#0070C0" stroke="#0070C0" stroke-width="1.3" vector-effect="non-scaling-stroke">e</text>
<text transform="translate(700.72,739.25) scale(0.4955,1)" font-size="55.51" fill="#0070C0" stroke="#0070C0" stroke-width="1.3" vector-effect="non-scaling-stroke">s</text>
</g></svg>
</body></html>
